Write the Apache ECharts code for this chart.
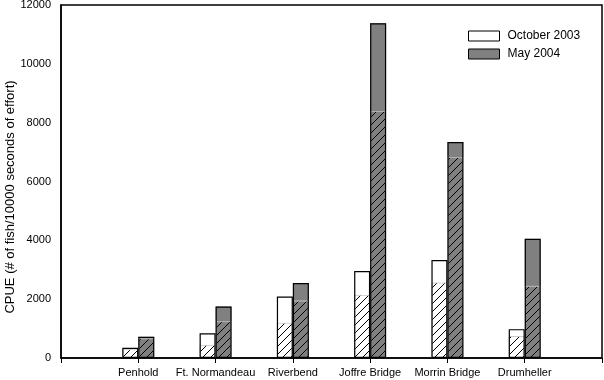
<!DOCTYPE html>
<html>
<head>
<meta charset="utf-8">
<script src="https://cdn.jsdelivr.net/npm/echarts@6/dist/echarts.min.js"></script>
<style>
  html, body { margin: 0; padding: 0; background: #fff; }
  #main { width: 604px; height: 380px; }
</style>
</head>
<body>
<div id="main"></div>
<script>
"use strict";

// sites, padded with an empty slot at each end (axis runs 0..7)
const sites = ['', 'Penhold', 'Ft. Normandeau', 'Riverbend', 'Joffre Bridge', 'Morrin Bridge', 'Drumheller', ''];

// CPUE values
const octLower = [null, 300, 450, 1200, 2150, 2570, 750, null];   // hatched part
const octTotal = [null, 350, 840, 2090, 2960, 3330, 980, null];
const mayLower = [null, 670, 1250, 1950, 8400, 6830, 2450, null];
const mayTotal = [null, 720, 1750, 2550, 11380, 7340, 4050, null];

const yTicks = { min: 0, max: 12000, step: 2000 };

const GRAY = '#808080';

// diagonal hatch fill
function hatch(bg) {
  const c = document.createElement('canvas');
  c.width = 8;
  c.height = 8;
  const ctx = c.getContext('2d');
  ctx.fillStyle = bg;
  ctx.fillRect(0, 0, 8, 8);
  ctx.strokeStyle = '#000';
  ctx.lineWidth = 1;
  ctx.beginPath();
  ctx.moveTo(0, 8); ctx.lineTo(8, 0);
  ctx.moveTo(-1, 1); ctx.lineTo(1, -1);
  ctx.moveTo(7, 9); ctx.lineTo(9, 7);
  ctx.stroke();
  return { image: c, repeat: 'repeat' };
}

function upper(total, lower) {
  return total.map((v, i) => (v == null ? null : v - lower[i]));
}

let myChart = echarts.init(document.getElementById('main'));

const font = 'Liberation Sans, Arial, sans-serif';

let option = {
  animation: false,
  textStyle: { fontFamily: font, color: '#000' },
  grid: {
    left: 61, right: 2, top: 5, bottom: 22,
    containLabel: false,
    outerBoundsMode: 'none',
    show: true,
    borderColor: '#000',
    borderWidth: 1.5,
  },
  legend: {
    orient: 'vertical',
    left: 463,
    top: 25,
    itemWidth: 31,
    itemHeight: 10,
    itemGap: 6,
    icon: 'rect',
    selectedMode: false,
    textStyle: { fontSize: 12, color: '#000', fontFamily: font, padding: [0, 0, 0, 3] },
    data: [
      { name: 'October 2003', itemStyle: { color: '#fff', borderColor: '#000', borderWidth: 1 } },
      { name: 'May 2004', itemStyle: { color: GRAY, borderColor: '#000', borderWidth: 1 } },
    ],
  },
  xAxis: [
    {
      type: 'category',
      data: sites,
      boundaryGap: false,
      axisLine: { lineStyle: { color: '#000', width: 1.5 } },
      axisTick: { show: true, length: 5, lineStyle: { color: '#000' } },
      axisLabel: { interval: 0, fontSize: 11, color: '#000', margin: 9, fontFamily: font },
      splitLine: { show: false },
    },
    { // overlay axis for the black outlines
      type: 'category',
      data: sites,
      boundaryGap: false,
      show: false,
    },
  ],
  yAxis: {
    type: 'value',
    min: yTicks.min,
    max: yTicks.max,
    interval: yTicks.step,
    name: 'CPUE (# of fish/10000 seconds of effort)',
    nameLocation: 'middle',
    nameGap: 44,
    nameMoveOverlap: false,
    nameTextStyle: { fontSize: 13, color: '#000', fontFamily: font, padding: [0, 31, 0, 0] },
    axisLine: { show: true, lineStyle: { color: '#000', width: 1.5 } },
    axisTick: { show: false },
    axisLabel: {
      fontSize: 11, color: '#000', margin: 10, fontFamily: font,
      formatter: (v) => String(v),
    },
    splitLine: { show: false },
  },
  series: [
    {
      name: 'October 2003 hatched',
      type: 'bar', stack: 'oct', barWidth: 16, barGap: 0,
      data: octLower,
      itemStyle: { color: hatch('#fff'), borderColor: '#c8c8c8', borderWidth: 1 },
    },
    {
      name: 'October 2003',
      type: 'bar', stack: 'oct', barWidth: 16, barGap: 0,
      data: upper(octTotal, octLower),
      itemStyle: { color: '#fff', borderWidth: 0 },
    },
    {
      name: 'May 2004 hatched',
      type: 'bar', stack: 'may', barWidth: 16, barGap: 0,
      data: mayLower,
      itemStyle: { color: hatch(GRAY), borderColor: '#b0b0b0', borderWidth: 1 },
    },
    {
      name: 'May 2004',
      type: 'bar', stack: 'may', barWidth: 16, barGap: 0,
      data: upper(mayTotal, mayLower),
      itemStyle: { color: GRAY, borderWidth: 0 },
    },
    { // outlines
      name: 'oct outline',
      type: 'bar', xAxisIndex: 1, barWidth: 16, barGap: 0, z: 3,
      data: octTotal,
      itemStyle: { color: 'rgba(0,0,0,0)', borderColor: '#000', borderWidth: 1.2 },
    },
    {
      name: 'may outline',
      type: 'bar', xAxisIndex: 1, barWidth: 16, barGap: 0, z: 3,
      data: mayTotal,
      itemStyle: { color: 'rgba(0,0,0,0)', borderColor: '#000', borderWidth: 1.2 },
    },
  ],
};

myChart.setOption(option);
</script>
</body>
</html>
